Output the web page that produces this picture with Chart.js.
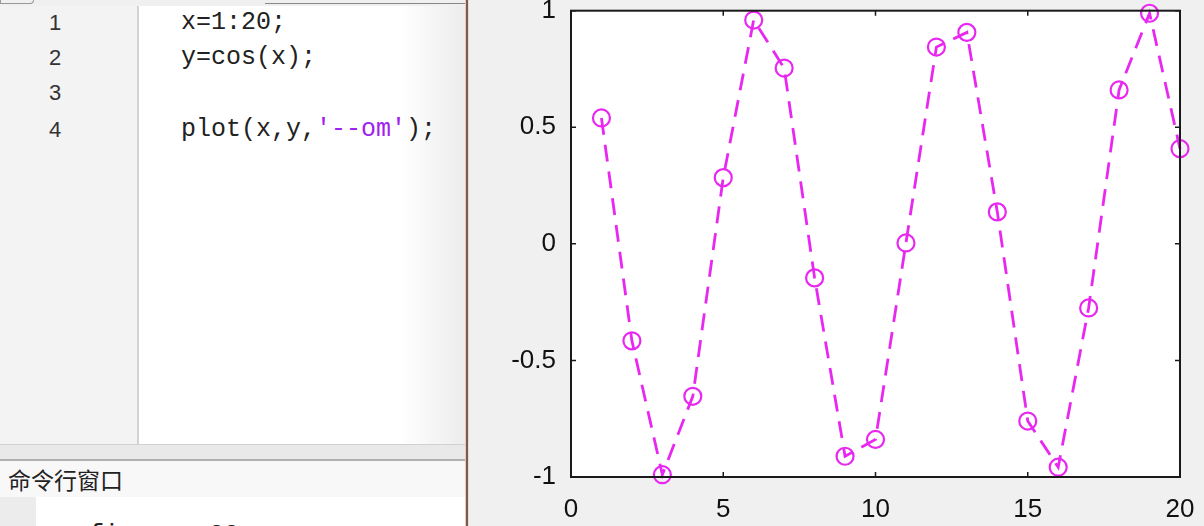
<!DOCTYPE html>
<html>
<head>
<meta charset="utf-8">
<script src="https://cdn.jsdelivr.net/npm/chart.js@4"></script>
<style>
  body { margin: 0; width: 1204px; height: 526px; overflow: hidden; background: #f0f0f0; position: relative; }
  .abs { position: absolute; }
  #gutter { left: 0; top: 6px; width: 137px; height: 438px; background: #f3f3f3; border-right: 2px solid #d2d2d2; }
  #code { left: 139px; top: 6px; width: 327px; height: 438px; background: linear-gradient(to right, #fff 80%, #ececec); }
  .ln { position: absolute; left: 40px; width: 30px; text-align: center; font: 22px "Liberation Sans", Arial, sans-serif; color: #333; }
  .cl { position: absolute; left: 181px; font: 25px "Liberation Mono", "DejaVu Sans Mono", monospace; color: #222; white-space: pre; }
  .str { color: #a020f0; }
  #wrap { left: 469px; top: 0; width: 735px; height: 526px; }
</style>
</head>
<body>
<!-- editor tabs strip -->
<div class="abs" style="left:0;top:0;width:32px;height:3px;border:1px solid #999;border-top:none;border-radius:0 0 6px 0;"></div>
<div class="abs" style="left:265px;top:0;width:201px;height:3px;border-bottom:1px solid #888;"></div>
<div class="abs" id="gutter"></div>
<div class="abs" id="code"></div>

<div class="ln" style="top:10px">1</div>
<div class="ln" style="top:45px">2</div>
<div class="ln" style="top:80px">3</div>
<div class="ln" style="top:117px">4</div>

<div class="cl" style="top:8px">x=1:20;</div>
<div class="cl" style="top:43px">y=cos(x);</div>
<div class="cl" style="top:115px">plot(x,y,<span class="str">'--om'</span>);</div>

<!-- command window -->
<div class="abs" style="left:0;top:444px;width:466px;height:15px;background:#e9e9e9;border-top:1px solid #d0d0d0;"></div>
<div class="abs" style="left:0;top:459px;width:466px;height:37px;background:#f8f8f8;border-top:2px solid #b0b0b0;border-bottom:1px solid #c8c8c8;"></div>
<div class="abs" style="left:8px;top:462px;font:23px 'Noto Sans CJK SC', sans-serif;color:#222;">命令行窗口</div>
<div class="abs" style="left:0;top:497px;width:36px;height:29px;background:#ececec;"></div>
<div class="abs" style="left:36px;top:497px;width:430px;height:29px;background:#fff;overflow:hidden;">
  <div style="position:absolute;left:8px;top:24px;font:25px 'Liberation Mono', monospace;color:#222;white-space:pre;">&gt;&gt; figure  22</div>
</div>

<!-- divider between panes -->
<div class="abs" style="left:465px;top:0;width:1px;height:526px;background:#e8c8c0;"></div>
<div class="abs" style="left:466px;top:0;width:2px;height:526px;background:#7a5a52;"></div>
<div class="abs" style="left:468px;top:0;width:1px;height:526px;background:#efd8d2;"></div>

<div class="abs" id="wrap"><canvas id="myChart" width="735" height="526"></canvas></div>

<script>
const xValues = [1, 2, 3, 4, 5, 6, 7, 8, 9, 10, 11, 12, 13, 14, 15, 16, 17, 18, 19, 20];
const yValues = [0.54, -0.416, -0.99, -0.654, 0.284, 0.96, 0.754, -0.146, -0.911, -0.839,
                 0.004, 0.844, 0.907, 0.137, -0.76, -0.958, -0.275, 0.66, 0.989, 0.408];
const xTicks = [0, 5, 10, 15, 20];
const yTicks = [-1, -0.5, 0, 0.5, 1];

const magenta = 'rgb(232, 40, 240)';

// white plot area, box outline and inward ticks (matlab style)
const axesBox = {
  id: 'axesBox',
  beforeDatasetsDraw(chart) {
    const { ctx, chartArea: a } = chart;
    ctx.save();
    ctx.fillStyle = '#fff';
    ctx.fillRect(a.left, a.top, a.right - a.left, a.bottom - a.top);
    ctx.restore();
  },
  afterDatasetsDraw(chart) {
    const { ctx, chartArea: a, scales } = chart;
    ctx.save();
    ctx.strokeStyle = '#1a1a1a';
    ctx.lineWidth = 2;
    ctx.strokeRect(a.left, a.top, a.right - a.left, a.bottom - a.top);
    ctx.lineWidth = 1.5;
    ctx.beginPath();
    xTicks.forEach(v => {
      const px = scales.x.getPixelForValue(v);
      ctx.moveTo(px, a.bottom); ctx.lineTo(px, a.bottom - 5);
      ctx.moveTo(px, a.top); ctx.lineTo(px, a.top + 5);
    });
    yTicks.forEach(v => {
      const py = scales.y.getPixelForValue(v);
      ctx.moveTo(a.left, py); ctx.lineTo(a.left + 5, py);
      ctx.moveTo(a.right, py); ctx.lineTo(a.right - 5, py);
    });
    ctx.stroke();
    ctx.restore();
  }
};

new Chart('myChart', {
  type: 'line',
  data: {
    datasets: [{
      data: xValues.map((x, i) => ({ x: x, y: yValues[i] })),
      borderColor: magenta,
      borderWidth: 2.8,
      borderDash: [17, 10],
      pointStyle: 'circle',
      pointRadius: 8.5,
      pointBorderWidth: 2.2,
      pointBorderColor: magenta,
      pointBackgroundColor: 'rgba(0,0,0,0)',
      tension: 0,
      clip: false,
    }],
  },
  options: {
    responsive: false,
    animation: false,
    events: [],
    layout: { padding: { top: 9, right: 24, bottom: 0, left: 0 } },
    plugins: { legend: { display: false }, tooltip: { enabled: false } },
    scales: {
      x: {
        type: 'linear',
        min: 0, max: 20,
        afterBuildTicks: s => { s.ticks = xTicks.map(v => ({ value: v })); },
        afterFit: s => { s.height = 49; s.paddingLeft = 0; s.paddingRight = 0; },
        grid: { display: false },
        border: { display: false },
        ticks: { color: '#111', font: { family: 'Liberation Sans', size: 26 }, padding: 9, maxRotation: 0,
                 callback: v => String(v) },
      },
      y: {
        min: -1, max: 1,
        afterBuildTicks: s => { s.ticks = yTicks.map(v => ({ value: v })); },
        afterFit: s => { s.width = 102; s.paddingTop = 0; s.paddingBottom = 0; },
        grid: { display: false },
        border: { display: false },
        ticks: { color: '#111', font: { family: 'Liberation Sans', size: 26 }, padding: 7,
                 callback: v => String(v) },
      },
    },
  },
  plugins: [axesBox],
});
</script>
</body>
</html>
